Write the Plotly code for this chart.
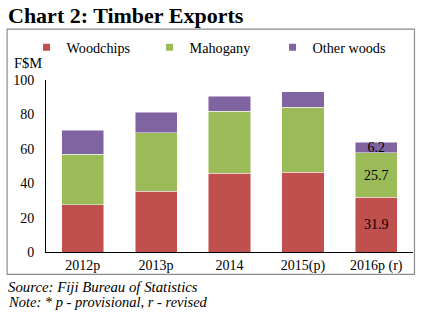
import plotly.graph_objects as go

# data (F$M)
years = ['2012p', '2013p', '2014', '2015(p)', '2016p (r)']
woodchips = [27.4, 35.4, 45.8, 46.4, 31.9]
mahogany = [29.3, 34.0, 36.0, 37.7, 25.7]
other_woods = [14.1, 11.8, 8.7, 9.1, 6.2]

series = [
    ('Woodchips', woodchips, '#C0504D'),
    ('Mahogany', mahogany, '#9BBB59'),
    ('Other woods', other_woods, '#8064A2'),
]

serif = 'Liberation Serif'

fig = go.Figure()
for name, vals, color in series:
    # only the last year carries value labels
    labels = [''] * (len(vals) - 1) + [f'{vals[-1]:.1f}']
    fig.add_trace(go.Bar(
        x=years, y=vals, name=name,
        marker=dict(color=color, line=dict(color='rgba(255,255,255,0.6)', width=0.8)),
        text=labels, textposition='inside', insidetextanchor='middle',
        textfont=dict(family=serif, size=14, color='black'),
        showlegend=False, hoverinfo='x+y+name',
    ))
    # small square legend markers
    fig.add_trace(go.Scatter(
        x=[None], y=[None], mode='markers', name=name,
        marker=dict(symbol='square', size=7, color=color),
    ))

fig.update_layout(
    width=422, height=316,
    barmode='stack', bargap=0.425,
    paper_bgcolor='white', plot_bgcolor='white',
    margin=dict(l=46.4, r=9.4, t=79.6, b=64),
    font=dict(family=serif, size=14, color='black'),
    uniformtext=dict(mode='show', minsize=14),
    legend=dict(orientation='h', traceorder='normal',
                x=-0.053, xanchor='left', y=1.189, yanchor='middle',
                entrywidth=78, entrywidthmode='pixels',
                font=dict(family=serif, size=14.2, color='black'),
                bgcolor='rgba(0,0,0,0)'),
    showlegend=True,
)

fig.update_yaxes(range=[0, 100], dtick=20, showgrid=False, zeroline=False,
                 showline=True, linecolor='black', linewidth=1,
                 ticks='', ticklabelstandoff=8,
                 tickfont=dict(family=serif, size=14, color='black'))
fig.update_xaxes(showgrid=False, showline=True, linecolor='black', linewidth=1,
                 ticks='', tickfont=dict(family=serif, size=14, color='black'))

# frame around chart area
fig.add_shape(type='rect', xref='paper', yref='paper',
              x0=-0.106, x1=1.004, y0=-0.13, y1=1.296,
              line=dict(color='#8a8a8a', width=1.2), layer='below')

fig.add_annotation(text='<b>Chart 2: Timber Exports</b>', xref='paper', yref='paper',
                   x=-0.108, y=1.377, xanchor='left', yanchor='middle', showarrow=False,
                   font=dict(family=serif, size=22, color='black'))
fig.add_annotation(text='F$M', xref='paper', yref='paper', x=-0.094, y=1.096,
                   xanchor='left', yanchor='middle', showarrow=False,
                   font=dict(family=serif, size=14.5, color='black'))
fig.add_annotation(text='<i>Source: Fiji Bureau of Statistics</i>', xref='paper', yref='paper',
                   x=-0.108, y=-0.203, xanchor='left', yanchor='middle', showarrow=False,
                   font=dict(family=serif, size=14.8, color='black'))
fig.add_annotation(text='<i>Note: * p - provisional, r - revised</i>', xref='paper', yref='paper',
                   x=-0.108, y=-0.29, xanchor='left', yanchor='middle', showarrow=False,
                   font=dict(family=serif, size=14.5, color='black'))

# page body has an 8px default margin; drop it so the figure sits at the window origin
fig.write_html('out.html', config={'displayModeBar': False},
               post_script="document.body.style.margin='0';")
